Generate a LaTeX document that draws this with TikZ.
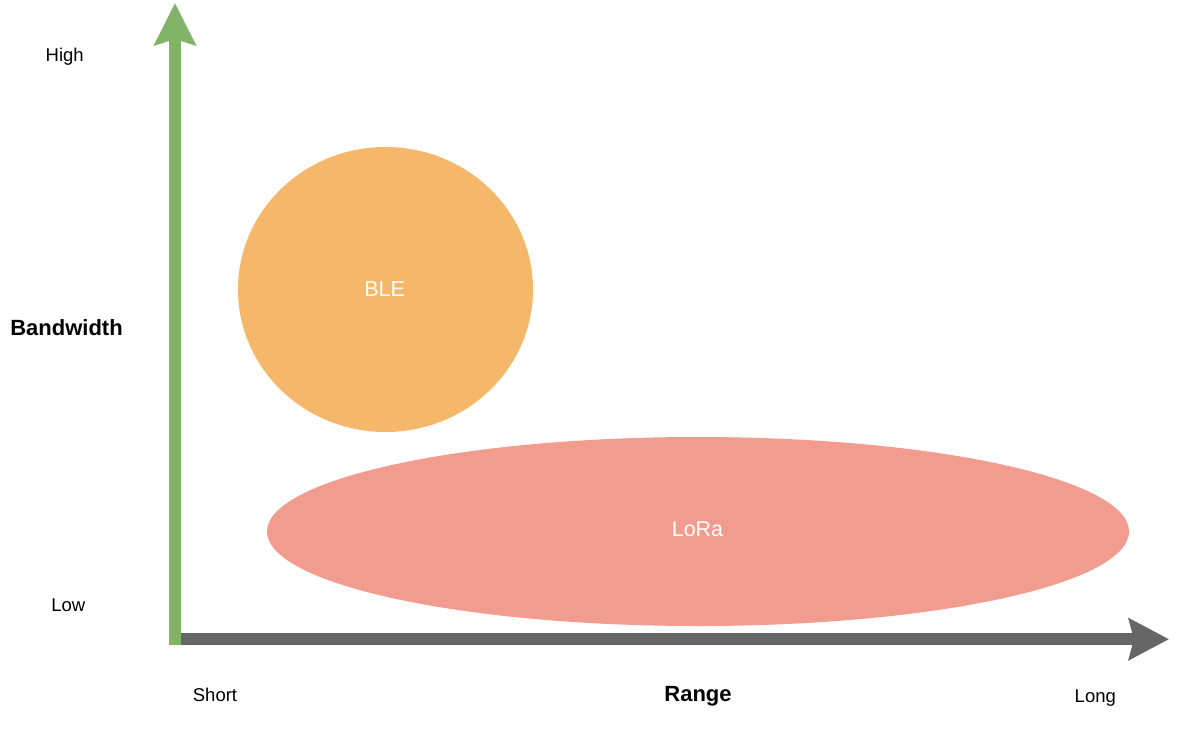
\documentclass[tikz,border=0pt]{standalone}
\usepackage{fontspec}
\setmainfont{Liberation Sans}
\usetikzlibrary{arrows.meta,shapes.geometric}
\definecolor{axgreen}{HTML}{82B366}
\definecolor{axgrey}{HTML}{666666}
\definecolor{bleorange}{HTML}{F5B76A}
\definecolor{lorared}{HTML}{F19C8E}
\tikzset{
  lbl/.style={font=\fontsize{18.5}{22}\selectfont, inner sep=0pt, anchor=base},
  ttl/.style={font=\fontsize{22}{26}\selectfont\bfseries, inner sep=0pt, anchor=base},
  blob/.style={ellipse, draw=none, inner sep=0pt},
  blobtext/.style={font=\fontsize{21.5}{26}\selectfont, text=white, inner sep=0pt, anchor=base},
  axis/.style={line width=11.5pt, line cap=butt},
}
\begin{document}
\begin{tikzpicture}[x=1pt,y=-1pt]
\useasboundingbox (0,0) rectangle (1200,729);
\fill[white] (0,0) rectangle (1200,729);
% blobs
\node[blob, fill=bleorange, minimum width=295pt, minimum height=285pt] (ble) at (385.5,289.5) {};
\node[blob, fill=lorared, minimum width=862pt, minimum height=189pt] (lora) at (698,531.5) {};
\node[blobtext] (bletext) at (384.7,296.7) {BLE};
\node[blobtext] (loratext) at (697.5,536.7) {LoRa};
% axes
\coordinate (origin) at (175,645);
\coordinate (ytop) at (175,3);
\coordinate (xstart) at (180.5,639.2);
\coordinate (xend) at (1169,639.2);
\draw[axis, draw=axgreen, -{Stealth[length=42pt, width=41pt, inset=6pt]}] (origin) -- (ytop);
\draw[axis, draw=axgrey, -{Stealth[length=40pt, width=41pt, inset=5pt]}] (xstart) -- (xend);
% labels
\node[lbl] (high) at (64.7,61.7) {High};
\node[lbl] (low) at (68.3,611.7) {Low};
\node[ttl] (bw) at (66.5,335.7) {Bandwidth};
\node[lbl] (short) at (215,701.7) {Short};
\node[ttl] (range) at (698,701.7) {Range};
\node[lbl] (long) at (1095.3,702.3) {Long};
\end{tikzpicture}
\end{document}
